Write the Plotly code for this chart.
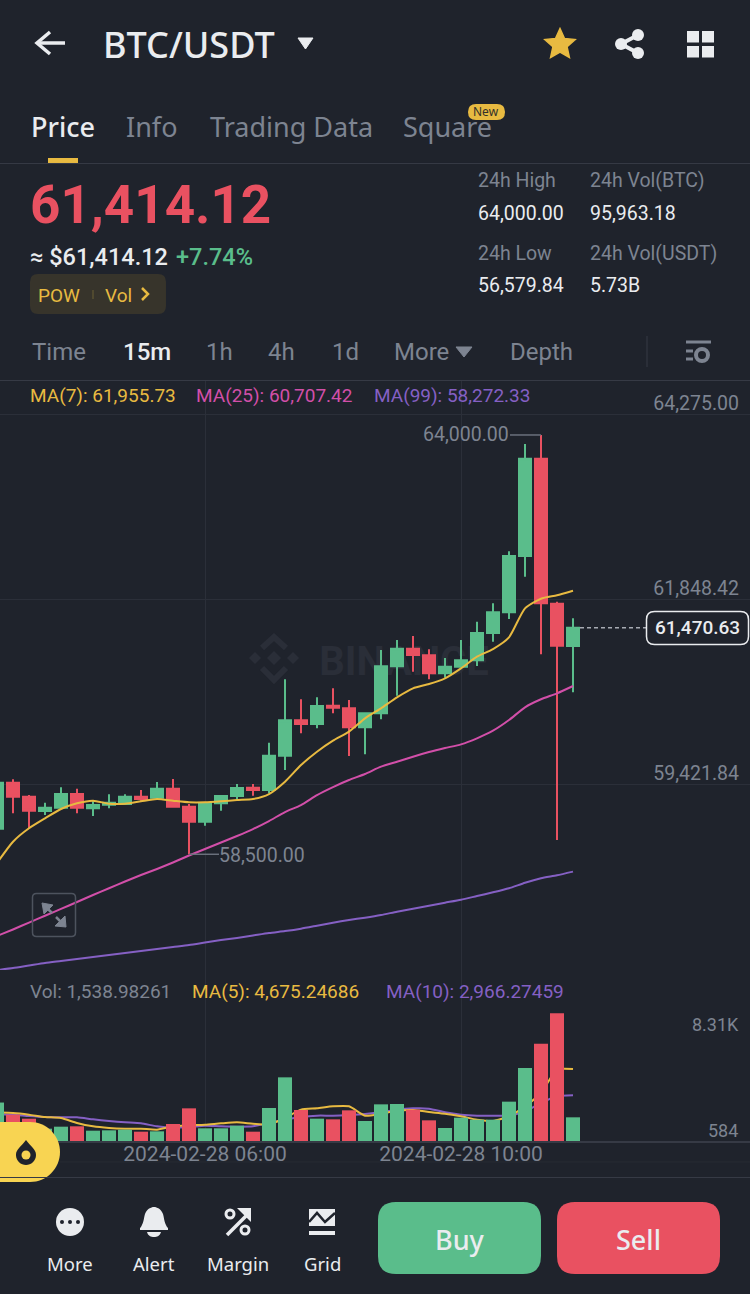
import math
import re
import pandas as pd
import plotly.graph_objects as go

W, H = 750, 1294

BG = "#1f232c"
GRID = "#2b2f39"
LINE = "#363a45"
GREEN = "#5abd8b"
RED = "#e95161"
YELLOW = "#e8ba41"
PINK = "#d24fa9"
PURPLE = "#8560c4"
GRAY = "#7d8491"
WHITE = "#eaecef"
NUM = "Roboto"
TXT = "Noto Sans"

# 15m candles, first one is cut by the left edge
times = pd.date_range("2024-02-28 02:45", periods=37, freq="15min")

opens = [58835, 59439, 59255, 59068, 59111, 59291, 59103, 59150, 59160, 59255, 59242, 59360, 59124,
         58927, 59169, 59264, 59373, 59343, 59793, 60257, 60209, 60449, 60415, 60165, 60349, 60966,
         61196, 61110, 60874, 60960, 61044, 61402, 61674, 62412, 63689, 61787, 61232]
highs = [59448, 59484, 59278, 59177, 59379, 59360, 59212, 59287, 59287, 59343, 59448, 59487, 59160,
         59163, 59264, 59422, 59422, 59963, 60795, 60533, 60559, 60677, 60523, 60362, 61179, 61310,
         61363, 61189, 61074, 61310, 61551, 61792, 62474, 63881, 64000, 61813, 61595]
lows = [58832, 59037, 58841, 59015, 59111, 59037, 59002, 59103, 59146, 59203, 59242, 59124, 58500,
        58875, 59072, 59221, 59268, 59300, 59605, 60087, 60152, 60349, 59789, 59811, 60270, 60580,
        60895, 60795, 60816, 60960, 60969, 61288, 61586, 62141, 61123, 58687, 60625]
closes = [59439, 59255, 59072, 59111, 59291, 59111, 59146, 59177, 59255, 59225, 59360, 59124, 58927,
          59163, 59264, 59369, 59343, 59793, 60257, 60209, 60445, 60422, 60165, 60349, 60966, 61196,
          61114, 60874, 60960, 61044, 61402, 61674, 62412, 63689, 61792, 61236, 61470.63]

ma7 = [58385, 58665, 58841, 58972, 59094, 59169, 59203, 59163, 59163, 59195, 59225, 59203, 59182,
       59182, 59195, 59212, 59225, 59290, 59452, 59671, 59845, 59990, 60108, 60283, 60415, 60559,
       60677, 60733, 60808, 60939, 61092, 61192, 61346, 61726, 61852, 61897, 61955.73]
ma25 = [57428, 57514, 57604, 57694, 57783, 57874, 57966, 58054, 58143, 58228, 58307, 58392, 58484,
        58569, 58654, 58740, 58831, 58936, 59054, 59146, 59277, 59382, 59474, 59553, 59649, 59714,
        59780, 59841, 59894, 59942, 60021, 60121, 60261, 60428, 60533, 60611, 60707.42]
ma99 = [56982, 57008, 57041, 57074, 57100, 57126, 57152, 57179, 57205, 57231, 57257, 57284, 57310,
        57343, 57375, 57402, 57434, 57467, 57493, 57524, 57563, 57602, 57638, 57668, 57703, 57747,
        57786, 57825, 57865, 57904, 57953, 58001, 58054, 58127, 58185, 58224, 58272.33]

volumes = [2500, 1712, 1450, 800, 930, 955, 670, 695, 735, 605, 630, 1105, 2123,
           825, 825, 996, 605, 2145, 4138, 2015, 1452, 1408, 1993, 1300, 2383, 2405,
           2037, 1343, 845, 1517, 1387, 1387, 2557, 4745, 6327, 8310, 1538.98]
vol_ma5 = [1850, 1820, 1712, 1560, 1495, 1170, 953, 845, 800, 800, 737, 953, 1018,
           1062, 1148, 1213, 1127, 1083, 1495, 2037, 2124, 2254, 2254, 1647, 1777, 1972,
           2015, 1885, 1777, 1603, 1387, 1300, 1603, 2254, 3120, 4637, 4675.25]
vol_ma10 = [1750, 1712, 1625, 1560, 1538, 1538, 1408, 1300, 1213, 1148, 953, 867, 910,
            997, 953, 932, 953, 1170, 1387, 1560, 1647, 1647, 1690, 1755, 1864, 2037,
            2124, 2102, 1864, 1712, 1647, 1647, 1647, 1929, 2470, 2904, 2966.27]

price_ticks = [64275.00, 61848.42, 59421.84, 56995.26]
time_ticks = ["2024-02-28 06:00", "2024-02-28 10:00"]


def fx(x):
    return x / W


def fy(y):
    return 1 - y / H


def path(s):
    # pixel path -> paper path
    out, i = [], 0
    for tok in s.split():
        if re.match(r"^[A-Z]$", tok):
            out.append(tok)
        else:
            v = float(tok)
            out.append(f"{fx(v):.5f}" if i % 2 == 0 else f"{fy(v):.5f}")
            i += 1
    return " ".join(out)


shapes, notes = [], []


def add_path(s, fill=None, color=None, width=0, layer="above"):
    shapes.append(dict(type="path", xref="paper", yref="paper", path=path(s), layer=layer,
                       fillcolor=fill if fill else "rgba(0,0,0,0)",
                       line=dict(color=color if color else "rgba(0,0,0,0)", width=width)))


def add_rrect(x0, y0, x1, y1, r, fill=None, color=None, width=0):
    add_path(f"M {x0+r} {y0} L {x1-r} {y0} Q {x1} {y0} {x1} {y0+r} L {x1} {y1-r} Q {x1} {y1} {x1-r} {y1} "
             f"L {x0+r} {y1} Q {x0} {y1} {x0} {y1-r} L {x0} {y0+r} Q {x0} {y0} {x0+r} {y0} Z",
             fill, color, width)


def add_circle(cx, cy, r, fill=None, color=None, width=0):
    shapes.append(dict(type="circle", xref="paper", yref="paper", layer="above",
                       x0=fx(cx - r), x1=fx(cx + r), y0=fy(cy + r), y1=fy(cy - r),
                       fillcolor=fill if fill else "rgba(0,0,0,0)",
                       line=dict(color=color if color else "rgba(0,0,0,0)", width=width)))


def add_hline(y, x0=0, x1=W, color=LINE, width=1):
    add_path(f"M {x0} {y} L {x1} {y}", None, color, width)


def text(x, y, s, size, color=WHITE, anchor="left", family=TXT, weight=400):
    # annotations sit a bit inside their box
    if anchor == "left":
        x -= 1.5
    notes.append(dict(xref="paper", yref="paper", x=fx(x), y=fy(y), text=s, showarrow=False,
                      xanchor=anchor, yanchor="middle", borderpad=0,
                      font=dict(size=size, color=color, family=family, weight=weight)))


fig = go.Figure()

fig.add_trace(go.Candlestick(
    x=times, open=opens, high=highs, low=lows, close=closes,
    increasing=dict(line=dict(color=GREEN, width=2), fillcolor=GREEN),
    decreasing=dict(line=dict(color=RED, width=2), fillcolor=RED),
    whiskerwidth=0, xaxis="x", yaxis="y",
))
for vals, col in [(ma99, PURPLE), (ma25, PINK), (ma7, YELLOW)]:
    fig.add_trace(go.Scatter(x=times, y=vals, mode="lines", xaxis="x", yaxis="y",
                             line=dict(color=col, width=2, shape="spline", smoothing=0.6)))

for vals, col in [(vol_ma10, PURPLE), (vol_ma5, YELLOW)]:
    fig.add_trace(go.Scatter(x=times, y=vals, mode="lines", xaxis="x2", yaxis="y2",
                             line=dict(color=col, width=2, shape="spline", smoothing=0.6)))
bar_colors = [GREEN if c >= o else RED for o, c in zip(opens, closes)]
fig.add_trace(go.Bar(x=times, y=volumes, marker=dict(color=bar_colors, line=dict(width=0)),
                     width=787500, xaxis="x2", yaxis="y3"))

# header
add_path("M 37 43 L 65 43", None, WHITE, 3.5)
add_path("M 50 32 L 37 43 L 50 54", None, WHITE, 3.5)
text(103, 45, "BTC/USDT", 36, WHITE, weight=500)
add_path("M 298 38 L 313 38 L 305.5 49 Z", WHITE, WHITE, 1)
star = []
for i in range(10):
    r = 16 if i % 2 == 0 else 7.5
    a = math.pi * i / 5
    star.append(f"{'M' if i == 0 else 'L'} {560 + r * math.sin(a):.1f} {44.5 - r * math.cos(a):.1f}")
add_path(" ".join(star) + " Z", YELLOW, YELLOW, 1.5)
add_path("M 638 35 L 621 44 L 638 53", None, WHITE, 4)
add_circle(638, 35, 6, WHITE)
add_circle(621, 44, 6, WHITE)
add_circle(638, 53, 6, WHITE)
for x0 in (687, 702):
    for y0 in (31, 46):
        shapes.append(dict(type="rect", xref="paper", yref="paper", x0=fx(x0), x1=fx(x0 + 12),
                           y0=fy(y0 + 11.5), y1=fy(y0), fillcolor=WHITE, line=dict(width=0)))

# tabs
text(31, 127, "Price", 27, WHITE, weight=500)
text(126, 127, "Info", 27, GRAY)
text(210, 127, "Trading Data", 27, GRAY)
text(403, 127, "Square", 27, GRAY)
add_rrect(468, 104, 505, 120, 8, YELLOW)
text(486.5, 112, "New", 12, "#33302a", "center")
add_rrect(48, 158, 78, 163, 0, YELLOW)
add_hline(163.5)

# price block
text(30, 205, "61,414.12", 53, RED, family=NUM, weight=700)
text(30, 257, "≈ $61,414.12", 23.5, WHITE, family=NUM, weight=500)
text(176, 257, "+7.74%", 23.5, GREEN, family=NUM, weight=500)
add_rrect(30, 274, 166, 314, 8, "#37342b")
text(38, 295, "POW", 19, YELLOW, family=NUM)
add_path("M 93 290 L 93 299", None, "#6b5f35", 1)
text(105, 295, "Vol", 19, YELLOW, family=NUM)
add_path("M 142 288 L 148 294 L 142 300", None, YELLOW, 2.5)

text(478, 181, "24h High", 19.5, GRAY, family=NUM)
text(590, 181, "24h Vol(BTC)", 19.5, GRAY, family=NUM)
text(478, 213, "64,000.00", 19.5, WHITE, family=NUM)
text(590, 213, "95,963.18", 19.5, WHITE, family=NUM)
text(478, 253, "24h Low", 19.5, GRAY, family=NUM)
text(590, 253, "24h Vol(USDT)", 19.5, GRAY, family=NUM)
text(478, 285, "56,579.84", 19.5, WHITE, family=NUM)
text(590, 285, "5.73B", 19.5, WHITE, family=NUM)

# interval row
for x, label in [(32, "Time"), (206, "1h"), (268, "4h"), (332, "1d"), (394, "More"), (510, "Depth")]:
    text(x, 352, label, 24, GRAY, family=NUM)
text(123, 352, "15m", 24, WHITE, family=NUM, weight=500)
add_path("M 456 347 L 472 347 L 464 357 Z", GRAY, GRAY, 1)
add_path("M 647 336 L 647 367", None, LINE, 1)
add_path("M 686 342 L 711 342", None, GRAY, 3)
add_path("M 686 351 L 693 351", None, GRAY, 3)
add_path("M 686 359 L 693 359", None, GRAY, 3)
add_circle(702, 355, 6, None, GRAY, 4)
add_hline(380.5)

# indicator legends
text(30, 396, "MA(7): 61,955.73", 19, YELLOW, family=NUM)
text(196, 396, "MA(25): 60,707.42", 19, PINK, family=NUM)
text(374, 396, "MA(99): 58,272.33", 19, PURPLE, family=NUM)
text(30, 992, "Vol: 1,538.98261", 19, GRAY, family=NUM)
text(192, 992, "MA(5): 4,675.24686", 19, YELLOW, family=NUM)
text(386, 992, "MA(10): 2,966.27459", 19, PURPLE, family=NUM)

# volume axis labels sit off their level
notes.append(dict(xref="paper", yref="y2", x=fx(741), y=8310, yshift=-11, text="8.31K", showarrow=False,
                  xanchor="right", font=dict(size=18, color=GRAY, family=NUM)))
notes.append(dict(xref="paper", yref="y2", x=fx(740), y=584, yshift=2, text="584", showarrow=False,
                  xanchor="right", font=dict(size=18, color=GRAY, family=NUM)))

# high / low markers
shapes.append(dict(type="line", xref="x", yref="y", xsizemode="pixel", xanchor=times[34], x0=-31, x1=0,
                   y0=64000, y1=64000, line=dict(color="#6a707c", width=1.5)))
shapes.append(dict(type="line", xref="x", yref="y", xsizemode="pixel", xanchor=times[12], x0=0, x1=30,
                   y0=58500, y1=58500, line=dict(color="#6a707c", width=1.5)))
notes.append(dict(xref="x", yref="y", x=times[34], y=64000, xshift=-30, text="64,000.00", showarrow=False,
                  xanchor="right", font=dict(size=19.5, color=GRAY, family=NUM)))
notes.append(dict(xref="x", yref="y", x=times[12], y=58500, xshift=28, yshift=-1, text="58,500.00", showarrow=False,
                  xanchor="left", font=dict(size=19.5, color=GRAY, family=NUM)))

# last price tag
shapes.append(dict(type="line", xref="paper", yref="y", x0=fx(580), x1=fx(646), y0=61470.63, y1=61470.63,
                   line=dict(color="#a7abb3", width=1.5, dash="4px,3px")))
add_rrect(646.5, 611.5, 748.5, 644.5, 8, BG, WHITE, 1.5)
text(697.5, 628, "61,470.63", 19, WHITE, "center", family=NUM, weight=500)

# watermark, under the candles
WM = "#2a2e38"
for s, fill, stroke in [("M 274 651 L 281 658 L 274 665 L 267 658 Z", WM, 0),
                        ("M 255 652 L 261 658 L 255 664 L 249 658 Z", WM, 0),
                        ("M 293 652 L 299 658 L 293 664 L 287 658 Z", WM, 0),
                        ("M 262 648 L 274 637 L 286 648", None, 6),
                        ("M 262 668 L 274 680 L 286 668", None, 6)]:
    add_path(s, fill, WM, stroke, layer="below")
shapes.append(dict(type="rect", xref="paper", yref="paper", layer="below", x0=fx(305), x1=fx(503),
                   y0=fy(677), y1=fy(640), line=dict(width=0),
                   label=dict(text="BINANCE", font=dict(size=40, color=WM, family=NUM, weight=700),
                              textposition="middle center")))

# expand button
add_rrect(32.5, 893.5, 75.5, 936.5, 4, None, "#4d535e", 1.5)
add_path("M 42 903 L 53 905 L 44 914 Z", GRAY, GRAY, 1)
add_path("M 66 927 L 55 926 L 65 916 Z", GRAY, GRAY, 1)
add_path("M 46 907 L 52 913", None, GRAY, 2.5)
add_path("M 56 917 L 62 923", None, GRAY, 2.5)

# yellow pill
add_path("M 0 1122 L 30 1122 C 46.5 1122 60 1135.4 60 1152 C 60 1168.6 46.5 1182 30 1182 L 0 1182 Z", "#f8d452")
add_path("M 26 1140 C 30 1146 36 1149 36 1155 C 36 1161 31 1165 26 1165 C 21 1165 16 1161 16 1155 "
         "C 16 1149 22 1146 26 1140 Z", "#1f232c")
add_circle(26, 1155, 4.5, "#f8d452")

add_hline(1162, 60, W, "#272b34", 1)
add_hline(1177.5, 0, W, LINE, 1)

# bottom bar
add_circle(70, 1222, 14, WHITE)
for dx in (-8, 0, 8):
    add_circle(70 + dx, 1222, 2, BG)
add_path("M 140 1228 L 141 1227 C 144 1222 144 1217 145 1214 C 147 1209 151 1207 154 1207 "
         "C 157 1207 161 1209 163 1214 C 164 1217 164 1222 167 1227 L 168 1228 L 168 1230 L 140 1230 Z", WHITE)
add_path("M 147 1232 L 161 1232 C 160 1236 157 1237 154 1237 C 151 1237 148 1236 147 1232 Z", WHITE)
add_path("M 227 1235 L 249 1213", None, WHITE, 3.5)
add_path("M 237 1208 L 251 1208 L 251 1222 Z", WHITE)
add_circle(230, 1214, 4, None, WHITE, 3)
add_circle(245, 1230, 4, None, WHITE, 3)
add_path("M 309 1209 L 335 1209 L 335 1226 L 309 1226 Z", WHITE)
add_path("M 309 1222 L 317 1213 L 325 1222 L 335 1213", None, BG, 2.5)
add_path("M 309 1233 L 335 1233", None, WHITE, 4)
for x, label in [(70, "More"), (154, "Alert"), (238, "Margin"), (322, "Grid")]:
    text(x, 1263, label, 18.5, WHITE, "center")
add_rrect(378, 1202, 541, 1274, 18, GREEN)
add_rrect(557, 1202, 720, 1274, 18, RED)
text(459.5, 1239, "Buy", 27, WHITE, "center", weight=500)
text(638.5, 1239, "Sell", 27, WHITE, "center", weight=500)

x_range = ["2024-02-28 02:47:49", "2024-02-28 14:30:56"]

fig.update_layout(
    width=W, height=H, autosize=False,
    margin=dict(l=0, r=0, t=0, b=0),
    paper_bgcolor=BG, plot_bgcolor=BG,
    showlegend=False,
    boxgap=0.25, boxgroupgap=0,
    shapes=shapes, annotations=notes,
    xaxis=dict(domain=[0, 1], range=x_range, type="date", rangeslider=dict(visible=False),
               anchor="y", tickvals=time_ticks, showticklabels=False, ticks="",
               showgrid=True, gridcolor=GRID, gridwidth=1, zeroline=False),
    yaxis=dict(domain=[fy(970), fy(381)], range=[56982.1, 64708], side="right", anchor="x",
               tickvals=price_ticks, ticktext=[f"{v:,.2f}" for v in price_ticks],
               ticklabelposition="inside top", ticklabelstandoff=8, ticklabelshift=3,
               tickfont=dict(size=19.5, color=GRAY, family=NUM),
               showgrid=True, gridcolor=GRID, gridwidth=1, zeroline=False),
    xaxis2=dict(domain=[0, 1], range=x_range, type="date", anchor="y2",
                tickvals=time_ticks, ticktext=time_ticks, ticks="",
                ticklabelstandoff=-7,
                tickfont=dict(size=21, color=GRAY, family=NUM),
                showgrid=True, gridcolor=GRID, gridwidth=1, zeroline=False,
                showline=True, linecolor=LINE, linewidth=2),
    yaxis2=dict(domain=[fy(1141), fy(970)], range=[0, 11115], anchor="x2", side="right",
                showticklabels=False, showgrid=False, zeroline=False),
    yaxis3=dict(domain=[fy(1141), fy(970)], range=[0, 11115], anchor="x2", side="right",
                overlaying="y2", showticklabels=False, showgrid=False, zeroline=False),
)

# page margin would push the fixed-size figure off the window
fig.write_html("out.html", config={"displayModeBar": False},
               post_script="document.body.style.margin='0';")
